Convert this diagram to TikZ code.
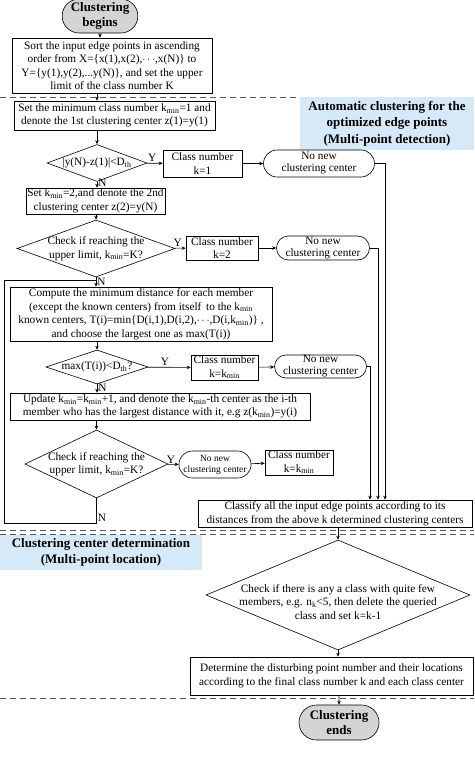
\documentclass[tikz,border=0pt]{standalone}
\usepackage{fontspec}
\setmainfont{Liberation Serif}
\usetikzlibrary{shapes.geometric, shapes.misc, arrows.meta, positioning}
\definecolor{tagblue}{RGB}{214,233,248}
\definecolor{termgray}{RGB}{212,212,212}
\tikzset{
	proc/.style={draw, fill=white, align=center, inner sep=1pt, font=\fontsize{11.3}{13.5}\selectfont},
	decide/.style={draw, diamond, fill=white, inner sep=0pt},
	dtext/.style={align=center, inner sep=0pt, font=\fontsize{11.3}{13.5}\selectfont},
	nonew/.style={draw, rounded rectangle, fill=white, align=center, inner sep=0.5pt, font=\fontsize{11.3}{12}\selectfont},
	termin/.style={draw, rounded rectangle, fill=termgray, align=center, inner sep=2pt, font=\bfseries\fontsize{13}{15}\selectfont},
	tag/.style={fill=tagblue, align=center, font=\bfseries\fontsize{13}{16.5}\selectfont},
	flow/.style={-{Stealth[length=4pt,width=3.5pt]}},
	yn/.style={inner sep=1pt, font=\fontsize{11.3}{12}\selectfont},
	sep/.style={dash pattern=on 6pt off 4pt, gray!70!black, line width=0.8pt},
}
\begin{document}
\begin{tikzpicture}[x=1pt, y=-1pt, line width=0.6pt]
	\useasboundingbox (0,0) rectangle (474,757);
	\draw[sep] (0,97) -- (474,97);
	\draw[sep] (0,530) -- (474,530);
	\draw[sep] (0,534) -- (474,534);
	\draw[sep] (0,698) -- (474,698);

	\node[tag, minimum width=174pt, minimum height=53pt] (tagauto) at (387,123.5) {Automatic clustering for the\\optimized edge points\\(Multi-point detection)};
	\node[tag, minimum width=202pt, minimum height=31pt] (tagloc) at (101,552.5) {Clustering center determination\\(Multi-point location)};

	\node[termin, minimum width=74pt, minimum height=34pt] (start) at (100,16) {Clustering\\begins};
	\node[proc, minimum width=200pt, minimum height=55pt] (sort) at (112,65.5) {Sort the input edge points in ascending\\order from X=\{x(1),x(2),$\cdots$,x(N)\} to\\Y=\{y(1),y(2),...y(N)\}, and set the upper\\limit of the class number K};
	\node[proc, minimum width=201pt, minimum height=29pt] (kone) at (114.5,115.5) {Set the minimum class number k\textsubscript{min}=1 and\\denote the 1st clustering center z(1)=y(1)};
	\node[decide, minimum width=100pt, minimum height=37pt, label={[dtext]center:{|y(N)-z(1)|<D\textsubscript{th}}}] (chkone) at (97,163) {};
	\node[proc, minimum width=79pt, minimum height=27pt] (clsone) at (202.5,163.5) {Class number\\k=1};
	\node[nonew, minimum width=112pt, minimum height=27pt] (nnone) at (319,163.5) {No new\\clustering center};
	\node[proc, minimum width=139pt, minimum height=26pt] (ktwo) at (95.5,201) {Set k\textsubscript{min}=2,and denote the 2nd\\clustering center z(2)=y(N)};
	\node[decide, minimum width=158pt, minimum height=57pt, label={[dtext]center:{Check if reaching the\\upper limit, k\textsubscript{min}=K?}}] (chktwo) at (96,248.5) {};
	\node[proc, minimum width=72pt, minimum height=24pt] (clstwo) at (222,248) {Class number\\k=2};
	\node[nonew, minimum width=94pt, minimum height=24pt] (nntwo) at (323,248) {No new\\clustering center};
	\node[proc, minimum width=262pt, minimum height=54pt] (mindist) at (141,314) {Compute the minimum distance for each member\\(except the known centers) from itself\, to the k\textsubscript{min}\\known centers, T(i)=min\{D(i,1),D(i,2),$\cdots$,D(i,k\textsubscript{min})\} ,\\and choose the largest one as max(T(i))};
	\node[decide, minimum width=102pt, minimum height=34pt, label={[dtext]center:{max(T(i))<D\textsubscript{th}?}}] (chkmax) at (97,367) {};
	\node[proc, minimum width=67pt, minimum height=25pt] (clsmin) at (224.5,367.5) {Class number\\k=k\textsubscript{min}};
	\node[nonew, minimum width=93pt, minimum height=23pt] (nnmin) at (320.5,366.5) {No new\\clustering center};
	\node[proc, minimum width=300pt, minimum height=27pt] (update) at (160,406.5) {Update k\textsubscript{min}=k\textsubscript{min}+1, and denote the k\textsubscript{min}-th center as the i-th\\member who has the largest distance with it, e.g z(k\textsubscript{min})=y(i)};
	\node[decide, minimum width=143pt, minimum height=68pt, label={[dtext]center:{Check if reaching the\\upper limit, k\textsubscript{min}=K?}}] (chkup) at (96.5,464) {};
	\node[nonew, minimum width=72pt, minimum height=27pt, font=\fontsize{9.5}{11}\selectfont] (nnup) at (215,464.5) {No new\\clustering center};
	\node[proc, minimum width=68pt, minimum height=25pt] (clsup) at (299,462.5) {Class number\\k=k\textsubscript{min}};
	\node[proc, minimum width=274pt, minimum height=27pt] (classify) at (335,513.5) {Classify all the input edge points according to its\\distances from the above k determined clustering centers};
	\node[decide, minimum width=264pt, minimum height=110pt, label={[dtext, yshift=-7pt]center:{Check if there is any a class with quite few\\members, e.g. n\textsubscript{k}<5, then delete the queried\\class and set k=k-1}}] (chkfew) at (338,595) {};
	\node[proc, minimum width=283pt, minimum height=38pt] (locate) at (331.5,676) {Determine the disturbing point number and their locations\\according to the final class number k and each class center};
	\node[termin, minimum width=84pt, minimum height=35pt] (finish) at (339,722.5) {Clustering\\ends};

	\coordinate (loopbot) at (4,523);
	\coordinate (looptop) at (4,280);

	\draw[flow] (start) -- (start |- sort.north);
	\draw[flow] (sort.south -| chkone) -- (kone.north -| chkone);
	\draw[flow] (kone.south -| chkone) -- (chkone);
	\draw[flow] (chkone) -- node[yn, above, pos=0.35] {Y} (clsone);
	\draw[flow] (clsone) -- (nnone);
	\draw[flow] (nnone.east) -| ([xshift=50pt]classify.north);
	\draw[flow] (chkone.south) -- node[yn, anchor=south west, pos=1] {N} (chkone.south |- ktwo.north);
	\draw[flow] (ktwo.south -| chktwo) -- (chktwo);
	\draw[flow] (chktwo) -- node[yn, above, pos=0.3] {Y} (clstwo);
	\draw[flow] (clstwo) -- (nntwo);
	\draw[flow] (nntwo.east) -| ([xshift=43pt]classify.north);
	\draw[flow] (chktwo.south) -- node[yn, anchor=south west, pos=1] {N} (chktwo.south |- mindist.north);
	\draw (chkup.south) |- node[yn, right, pos=0.4] {N} (loopbot) -- (looptop) -- (looptop -| chktwo);
	\draw[flow] (mindist.south -| chkmax) -- (chkmax);
	\draw[flow] (chkmax) -- node[yn, above, pos=0.4] {Y} (clsmin);
	\draw[flow] (clsmin) -- (nnmin);
	\draw[flow] (nnmin.east) -| ([xshift=35pt]classify.north);
	\draw[flow] (chkmax.south) -- node[yn, anchor=south west, pos=1] {N} (chkmax.south |- update.north);
	\draw[flow] (update.south -| chkup) -- (chkup);
	\draw[flow] (chkup) -- node[yn, above, pos=0.3] {Y} (nnup);
	\draw[flow] (nnup) -- (clsup);
	\draw[flow] (classify.south -| chkfew) -- (chkfew);
	\draw[flow] (chkfew) -- (chkfew.south |- locate.north);
	\draw[flow] (locate.south -| finish) -- (finish);
\end{tikzpicture}
\end{document}
